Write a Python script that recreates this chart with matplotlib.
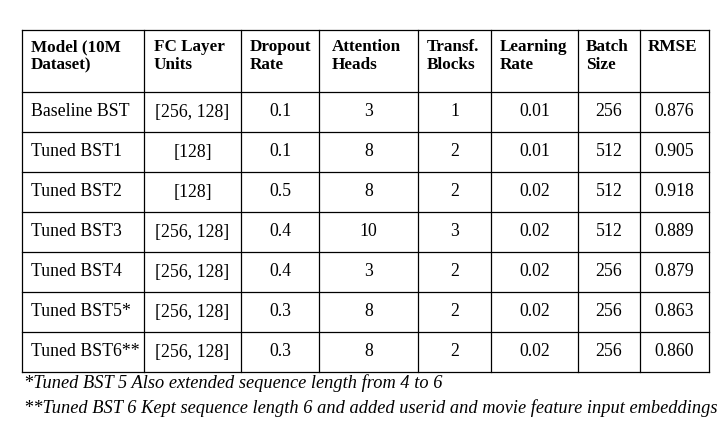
import matplotlib

matplotlib.use("Agg")
import matplotlib.pyplot as plt

headers = [
    "Model (10M\nDataset)", "FC Layer\nUnits", "Dropout\nRate", "Attention\nHeads",
    "Transf.\nBlocks", "Learning\nRate", "Batch\nSize", "RMSE",
]
models = ["Baseline BST", "Tuned BST1", "Tuned BST2", "Tuned BST3",
          "Tuned BST4", "Tuned BST5*", "Tuned BST6**"]
fc_units = ["[256, 128]", "[128]", "[128]", "[256, 128]", "[256, 128]", "[256, 128]", "[256, 128]"]
dropout = ["0.1", "0.1", "0.5", "0.4", "0.4", "0.3", "0.3"]
heads = ["3", "8", "8", "10", "3", "8", "8"]
blocks = ["1", "2", "2", "3", "2", "2", "2"]
lr = ["0.01", "0.01", "0.02", "0.02", "0.02", "0.02", "0.02"]
batch = ["256", "512", "512", "512", "256", "256", "256"]
rmse = ["0.876", "0.905", "0.918", "0.889", "0.879", "0.863", "0.860"]
footnotes = [
    "*Tuned BST 5 Also extended sequence length from 4 to 6",
    "**Tuned BST 6 Kept sequence length 6 and added userid and movie feature input embeddings",
]

col_edges = [22, 144, 241, 319, 418, 491, 578, 640, 709]
row_edges = [30, 92, 132, 172, 212, 252, 292, 332, 372]
header_pad = [9, 10, 9, 13, 9, 9, 8, 8]

fig = plt.figure(figsize=(7.23, 4.29), dpi=100)
ax = fig.add_axes([0, 0, 1, 1])
ax.set_xlim(0, 723)
ax.set_ylim(429, 0)
ax.axis("off")
font = "Liberation Serif"

for x in col_edges:
    ax.plot([x, x], [row_edges[0], row_edges[-1]], color="black", lw=0.9)
for y in row_edges:
    ax.plot([col_edges[0], col_edges[-1]], [y, y], color="black", lw=0.9)

for i, h in enumerate(headers):
    ax.text(col_edges[i] + header_pad[i], row_edges[0] + 9, h, ha="left", va="top",
            fontsize=12.3, fontweight="bold", family=font, linespacing=1.2)

columns = [models, fc_units, dropout, heads, blocks, lr, batch, rmse]
for r in range(len(models)):
    yc = (row_edges[r + 1] + row_edges[r + 2]) / 2
    for c, col in enumerate(columns):
        if c == 0:
            ax.text(col_edges[0] + 9, yc, col[r], ha="left", va="center",
                    fontsize=12.8, family=font)
        else:
            xc = (col_edges[c] + col_edges[c + 1]) / 2
            ax.text(xc, yc, col[r], ha="center", va="center", fontsize=12.8, family=font)

for k, note in enumerate(footnotes):
    ax.text(24, 383 + 25 * k, note, ha="left", va="center", fontsize=13.2,
            style="italic", family=font)

fig.savefig("out.png", dpi=100, facecolor="white")
